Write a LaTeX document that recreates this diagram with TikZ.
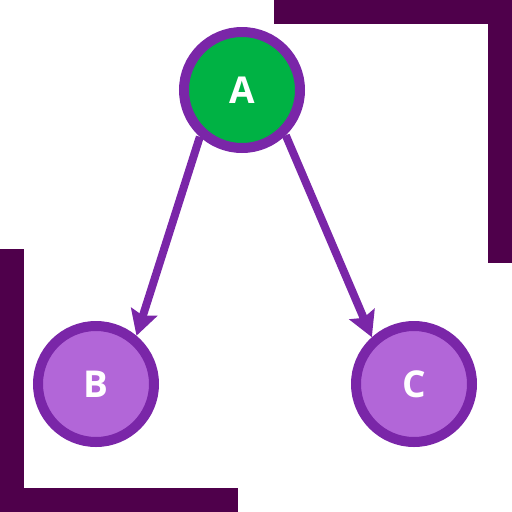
\documentclass[tikz,border=0pt]{standalone}
\usepackage{fontspec}
\setsansfont{Open Sans}
\usetikzlibrary{arrows.meta}
\definecolor{edgepurple}{HTML}{7A26A8}
\definecolor{leafpurple}{HTML}{B266D8}
\definecolor{rootgreen}{HTML}{00B244}
\definecolor{framepurple}{HTML}{4F004B}
\tikzset{>=Stealth}

\begin{document}
\begin{tikzpicture}[x=1pt, y=-1pt,
  vertex/.style={circle, draw=edgepurple, line width=10pt, minimum size=116pt, inner sep=0pt,
    text=white, font=\sffamily\bfseries\fontsize{37}{40}\selectfont},
  link/.style={edgepurple, line width=8pt, -{Stealth[length=25pt, width=27pt, inset=4pt]}}]
\useasboundingbox (0,0) rectangle (512,512);
% corner frames
\fill[framepurple] (274,0) rectangle (512,24);
\fill[framepurple] (488,0) rectangle (512,263);
\fill[framepurple] (0,249) rectangle (24,512);
\fill[framepurple] (0,488) rectangle (238,512);
% the tree
\node[vertex, fill=rootgreen] (A) at (242,90) {A};
\node[vertex, fill=leafpurple] (B) at (96,384) {B};
\node[vertex, fill=leafpurple] (C) at (414,384) {C};
\draw[link] (A.228) -- (B.50);
\draw[link] (A.314) -- (C.132);
\end{tikzpicture}
\end{document}
